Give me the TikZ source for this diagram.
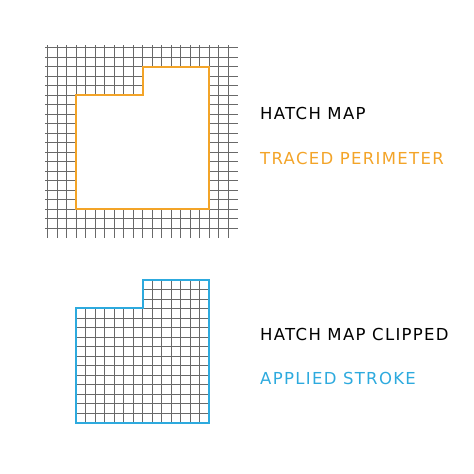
\documentclass[tikz,border=0pt]{standalone}
\usepackage{fontspec}
\newfontfamily\capfont[LetterSpace=8]{DejaVu Sans}
\definecolor{traceorange}{RGB}{243,164,40}
\definecolor{strokeblue}{RGB}{45,170,222}
\definecolor{hatchgray}{RGB}{105,105,105}

\begin{document}
\begin{tikzpicture}[x=1pt, y=-1pt,
            hatch/.style ={draw=hatchgray, line width=1pt},
            perimeter/.style ={draw=traceorange, line width=2pt, fill=white},
            applied/.style ={draw=strokeblue, line width=2pt},
            caption/.style ={font=\capfont\fontsize{16.5}{20}\selectfont, anchor=west, inner sep=0pt}]

        \useasboundingbox (0,0) rectangle (474,474);

        % hatch map, 20 x 20 lines (snapped to pixel centres)
        \foreach \i in {0,...,19} {
            \pgfmathsetmacro\p{floor(47.6+9.5*\i)+0.5}
            \draw[hatch] (\p, 45) -- (\p, 238);
            \draw[hatch] (45, \p) -- (238, \p);
        }

        % traced perimeter
        \draw[perimeter] (76,95) -- (143,95) -- (143,67) -- (209,67)
            -- (209,209) -- (76,209) -- cycle;

        % hatch map clipped to the perimeter
        \begin{scope}
            \clip (76,308) -- (143,308) -- (143,280) -- (209,280)
                -- (209,423) -- (76,423) -- cycle;
            \foreach \i in {0,...,15} {
                \pgfmathsetmacro\p{floor(76+9.5*\i)+0.5}
                \pgfmathsetmacro\q{floor(280+9.5*\i)+0.5}
                \draw[hatch] (\p, 275) -- (\p, 428);
                \draw[hatch] (70, \q) -- (215, \q);
            }
        \end{scope}
        \draw[applied] (76,308) -- (143,308) -- (143,280) -- (209,280)
            -- (209,423) -- (76,423) -- cycle;

        \node[caption] (hatchmap) at (260,113) {HATCH MAP};
        \node[caption, text=traceorange] (traced) at (260,158.5) {TRACED PERIMETER};
        \node[caption] (clipped) at (260,334) {HATCH MAP CLIPPED};
        \node[caption, text=strokeblue] (stroke) at (260,378) {APPLIED STROKE};

    \end{tikzpicture}
\end{document}
